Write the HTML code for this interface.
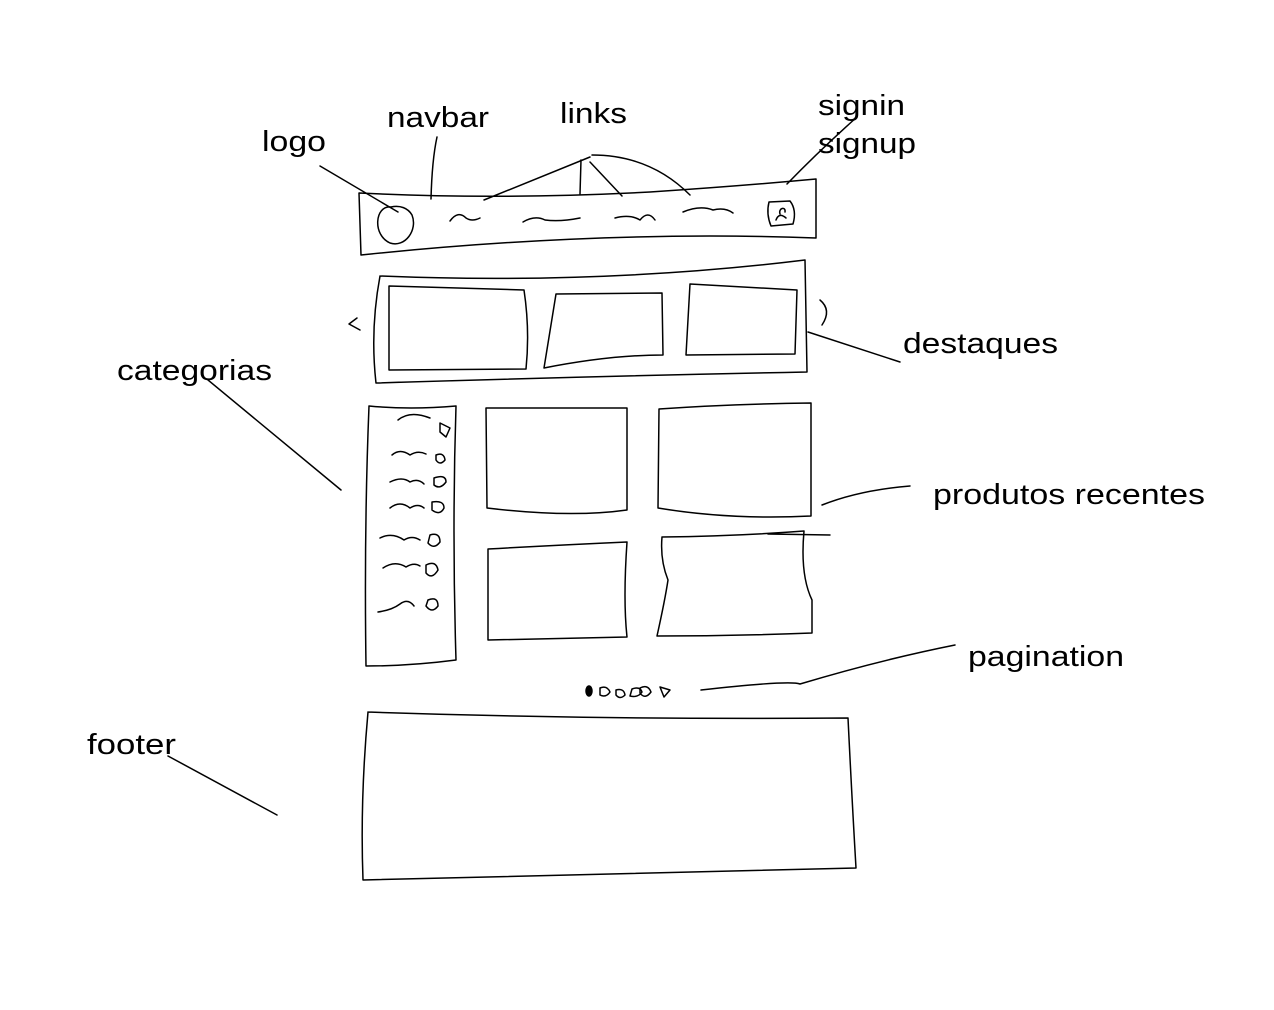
<!DOCTYPE html>
<html><head><meta charset="utf-8"><style>html,body{margin:0;padding:0;background:#fff}svg{display:block}</style></head>
<body>
<svg width="1274" height="1010" viewBox="0 0 1274 1010" xmlns="http://www.w3.org/2000/svg">
<g font-family="Liberation Sans, sans-serif" font-size="29" fill="#000">
<text x="262" y="151" textLength="64" lengthAdjust="spacingAndGlyphs">logo</text>
<text x="387" y="127" textLength="102" lengthAdjust="spacingAndGlyphs">navbar</text>
<text x="560" y="123" textLength="67" lengthAdjust="spacingAndGlyphs">links</text>
<text x="818" y="115" textLength="87" lengthAdjust="spacingAndGlyphs">signin</text>
<text x="818" y="153" textLength="98" lengthAdjust="spacingAndGlyphs">signup</text>
<text x="903" y="353" textLength="155" lengthAdjust="spacingAndGlyphs">destaques</text>
<text x="117" y="380" textLength="155" lengthAdjust="spacingAndGlyphs">categorias</text>
<text x="933" y="504" textLength="272" lengthAdjust="spacingAndGlyphs">produtos recentes</text>
<text x="968" y="666" textLength="156" lengthAdjust="spacingAndGlyphs">pagination</text>
<text x="87" y="754" textLength="89" lengthAdjust="spacingAndGlyphs">footer</text>
</g>
<g fill="none" stroke="#000" stroke-width="1.5" stroke-linecap="round" stroke-linejoin="round">
<!-- navbar -->
<path d="M359 193 Q500 200 650 192 Q740 186 816 179 L816 238 Q600 230 361 255 Z"/>
<path d="M391 207 C375 205 372 235 390 243 C405 248 418 230 412 215 C408 208 400 205 391 207"/>
<path d="M450 221 Q458 210 466 218 Q472 222 480 218"/>
<path d="M523 222 Q535 215 545 220 Q560 222 580 218"/>
<path d="M615 218 Q630 214 640 220 Q648 210 655 220"/>
<path d="M683 212 Q700 205 713 210 Q725 207 733 213"/>
<path d="M769 202 L790 201 Q797 210 793 224 L771 226 Q766 214 769 202"/>
<path d="M776 220 Q779 212 786 218 M780 214 C778 208 786 206 785 212"/>
<!-- connectors -->
<path d="M320 166 L398 212"/>
<path d="M437 137 Q432 160 431 199"/>
<path d="M484 200 L590 157 M581 160 L580 194 M590 162 L622 196 M592 155 Q650 155 690 195"/>
<path d="M857 117 Q820 150 787 184"/>
<!-- destaques -->
<path d="M380 276 Q600 285 805 260 L807 372 Q600 376 376 383 Q370 330 380 276"/>
<path d="M389 286 L524 290 Q530 330 526 369 L389 370 Z"/>
<path d="M556 294 L662 293 L663 355 Q610 355 544 368 Z"/>
<path d="M690 284 L797 290 L795 354 L686 355 Z"/>
<path d="M357 318 L349 324 L360 330"/>
<path d="M820 300 Q832 310 822 325"/>
<path d="M808 332 L900 362"/>
<!-- categorias -->
<path d="M208 380 L341 490"/>
<path d="M369 406 Q410 410 456 406 Q452 530 456 660 Q410 666 366 666 Q364 530 369 406"/>
<path d="M398 420 Q410 410 430 418 M440 423 L450 428 L446 437 L440 432 Z"/>
<path d="M392 455 Q400 448 410 455 Q418 450 426 454 M436 455 Q444 452 445 460 Q440 466 436 460 Z"/>
<path d="M390 482 Q402 476 410 482 Q418 478 424 484 M434 478 Q446 474 446 482 Q440 490 434 485 Z"/>
<path d="M390 508 Q400 500 410 508 Q418 503 424 508 M432 502 Q444 500 444 508 Q440 516 432 510 Z"/>
<path d="M380 538 Q392 532 404 540 Q412 535 420 540 M430 535 Q440 532 440 542 Q434 550 428 543 Z"/>
<path d="M383 568 Q395 560 406 567 Q414 562 420 566 M426 565 Q436 560 438 570 Q432 580 426 573 Z"/>
<path d="M378 612 Q392 610 400 604 Q408 598 414 606 M428 600 Q438 596 438 606 Q432 614 426 606 Z"/>
<!-- produtos -->
<path d="M486 408 L627 408 L627 510 Q570 518 487 508 Z"/>
<path d="M659 409 Q730 404 811 403 L811 516 Q730 520 658 508 Z"/>
<path d="M488 549 Q560 545 627 542 Q623 600 627 637 L488 640 Z"/>
<path d="M662 537 Q740 536 804 531 Q800 575 812 600 L812 633 Q735 636 657 636 Q665 600 668 580 Q660 560 662 537"/>
<path d="M822 505 Q860 490 910 486"/>
<path d="M768 534 L830 535"/>
<!-- pagination -->
<ellipse cx="589" cy="691" rx="3" ry="5" fill="#000"/>
<path d="M600 688 Q607 685 610 692 Q606 698 600 695 Z"/>
<path d="M616 690 Q624 688 625 695 Q620 700 616 695 Z"/>
<path d="M632 689 Q640 686 642 692 Q638 698 630 696 Z"/>
<path d="M640 688 Q648 684 651 692 Q645 700 640 693 Z"/>
<path d="M660 687 L670 690 L664 697 Z"/>
<path d="M701 690 Q790 680 800 684 Q880 660 955 645"/>
<!-- footer -->
<path d="M368 712 Q600 720 848 718 Q852 800 856 868 Q600 875 363 880 Q360 800 368 712"/>
<path d="M168 756 L277 815"/>
</g>
</svg>
</body></html>
